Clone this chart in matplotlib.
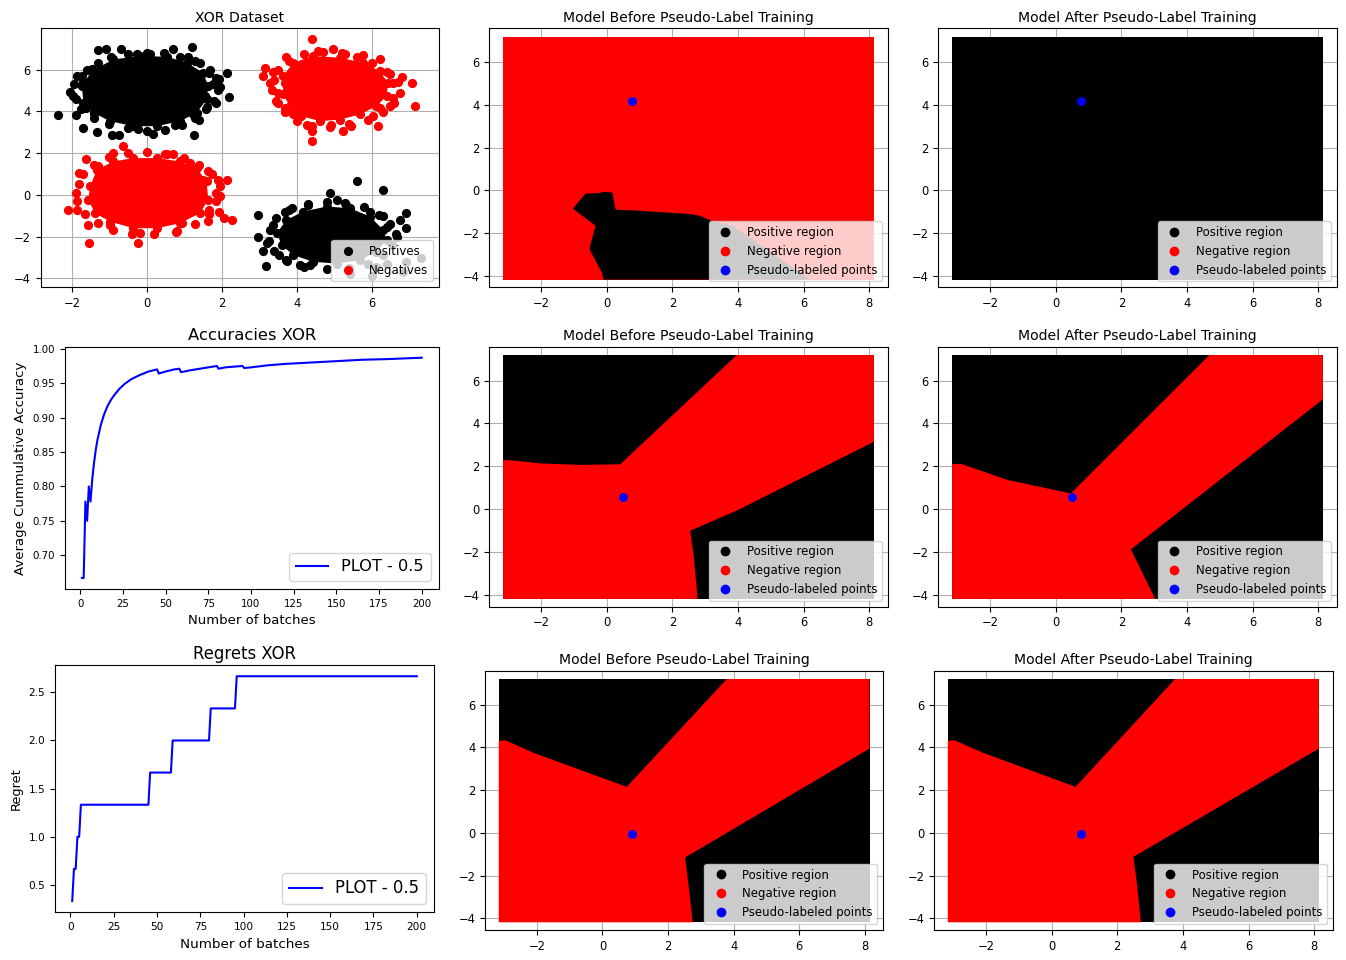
import numpy as np
import matplotlib
matplotlib.use("Agg")
import matplotlib.pyplot as plt
from matplotlib.lines import Line2D

# ---------------- XOR dataset ----------------
# Positives, top-left cluster: individual points (outliers + fringe)
pos_tl_x = [-2.36, -1.97, -1.88, -1.69, -1.33, -1.29, -1.08, -0.69, -1.71, -0.93, -0.74, 0.16, -0.22,
            1.26, 0.71, 1.20, 1.11, 1.42, 1.67, 2.13, 1.93, 1.96, 2.19, 1.84, 1.58, 1.40, 1.23, -0.27,
            0.09, -1.47, -1.73, -1.63, -1.42, 0.76, -0.44, 1.56, 1.78,
            -1.95, -1.85, -1.60, -1.30, -0.95, -0.50, 0.00, 0.45, 0.90, 1.30, 1.70, 1.85, 1.90, 1.80,
            1.60, 1.30, 0.95, 0.50, 0.00, -0.50, -1.00, -1.40, -1.75, -1.90, -2.05]
pos_tl_y = [3.81, 4.73, 3.81, 3.21, 3.01, 6.92, 6.97, 6.97, 5.40, 2.88, 2.85, 2.92, 3.17,
            2.85, 6.97, 7.08, 6.62, 6.33, 5.85, 5.82, 5.53, 5.18, 4.68, 4.38, 4.09, 3.57, 3.85, 6.73,
            6.73, 6.01, 5.69, 4.17, 3.93, 3.37, 3.32, 4.73, 5.29,
            5.30, 5.70, 6.00, 6.30, 6.60, 6.75, 6.80, 6.80, 6.60, 6.40, 6.00, 5.60, 5.00, 4.50,
            4.20, 3.70, 3.35, 3.10, 3.05, 3.20, 3.40, 3.70, 4.10, 4.60, 4.95]
# Positives, top-left cluster: outline of the dense core
pos_tl_core_x = [-1.73, -1.47, -0.89, -0.18, 0.53, 1.07, 1.51, 1.64, 1.60, 1.33, 0.89, 0.27, -0.36, -0.98, -1.42, -1.69]
pos_tl_core_y = [5.21, 5.93, 6.49, 6.65, 6.62, 6.33, 5.85, 5.21, 4.57, 3.93, 3.53, 3.29, 3.29, 3.53, 3.93, 4.41]

# Positives, bottom-right cluster
pos_br_x = [5.60, 6.31, 4.89, 2.98, 2.98, 3.11, 3.18, 3.20, 3.38, 3.69, 3.89, 4.31, 5.07, 5.33, 5.96, 6.31,
            6.76, 6.92, 6.93, 6.67, 6.40, 3.54, 3.72, 4.09, 4.36, 7.31, 6.40, 6.93, 6.13, 6.84, 5.42, 6.00,
            3.30, 3.45, 3.80, 4.30, 4.80, 5.30, 5.80, 6.20, 6.50, 6.65, 6.55, 6.30, 5.90, 5.40, 4.80,
            4.20, 3.75, 3.40, 3.25]
pos_br_y = [0.64, 0.24, 0.08, -0.96, -2.00, -2.68, -3.41, -2.29, -1.44, -0.80, -0.64, -0.48, -0.24, -0.48,
            -0.80, -1.01, -1.20, -0.88, -1.60, -2.04, -1.52, -2.88, -3.13, -3.37, -3.37, -3.05, -3.29, -3.20,
            -3.45, -3.69, -3.77, -3.87,
            -1.70, -1.10, -0.75, -0.45, -0.35, -0.40, -0.60, -0.95, -1.40, -1.90, -2.40, -2.90, -3.30,
            -3.50, -3.55, -3.45, -3.15, -2.70, -2.20]
pos_br_core_x = [3.47, 3.73, 4.18, 4.80, 5.42, 5.96, 6.31, 6.40, 6.13, 5.69, 5.07, 4.44, 3.91, 3.60]
pos_br_core_y = [-1.84, -1.20, -0.80, -0.56, -0.64, -1.04, -1.68, -2.16, -2.72, -3.13, -3.29, -3.21, -2.88, -2.40]

# Negatives, top-right cluster
neg_tr_x = [4.40, 3.72, 4.58, 4.98, 5.29, 5.78, 6.22, 3.16, 3.36, 3.11, 3.29, 3.69, 3.51, 3.51, 3.69, 3.91,
            4.27, 4.40, 4.40, 4.93, 5.23, 5.44, 6.04, 6.18, 6.22, 6.49, 6.56, 6.80, 7.09, 7.16, 6.58, 6.49,
            3.40, 3.50, 3.80, 4.20, 4.70, 5.20, 5.60, 6.00, 6.40, 6.70, 6.75, 6.60, 6.30, 5.90, 5.40,
            4.90, 4.40, 4.00, 3.70, 3.45, 3.35]
neg_tr_y = [7.45, 6.62, 6.89, 6.97, 6.73, 6.68, 6.52, 6.09, 5.88, 5.69, 5.37, 5.34, 4.89, 4.41, 4.17, 3.85,
            3.37, 3.04, 2.56, 3.37, 3.04, 3.32, 3.77, 3.32, 4.17, 4.25, 4.65, 5.66, 5.37, 4.28, 5.37, 5.77,
            5.50, 6.00, 6.40, 6.75, 6.85, 6.80, 6.60, 6.30, 5.90, 5.40, 4.90, 4.40, 3.95, 3.60, 3.40,
            3.25, 3.30, 3.55, 3.95, 4.50, 5.00]
neg_tr_core_x = [3.64, 3.91, 4.44, 5.16, 5.78, 6.22, 6.44, 6.40, 6.13, 5.69, 5.16, 4.62, 4.13, 3.82, 3.64]
neg_tr_core_y = [5.69, 6.33, 6.65, 6.57, 6.33, 5.93, 5.37, 4.73, 4.25, 3.85, 3.61, 3.53, 3.77, 4.25, 4.81]

# Negatives, bottom-left cluster
neg_bl_x = [-0.64, -0.89, -1.62, -1.82, -1.88, -2.09, -1.85, -1.53, -1.56, -0.22, -0.18, 0.71, 0.53, 1.16,
            1.64, 1.91, 2.13, 1.85, 1.96, 1.94, 2.06, 2.28, 1.64, 0.93, 0.78, -0.98, -1.29, -1.33, 1.51, 1.67,
            -1.80, -1.70, -1.40, -1.00, -0.50, 0.00, 0.50, 1.00, 1.40, 1.75, 1.95, 1.85, 1.65, 1.30,
            0.80, 0.20, -0.40, -0.90, -1.30, -1.65, -1.85]
neg_bl_y = [2.36, 2.00, 1.71, 1.04, 0.11, -0.72, -0.72, -2.32, -1.44, -2.32, -1.81, 1.97, 1.97, 1.52,
            1.12, 0.72, 0.72, 0.08, -0.05, -0.80, -1.12, -1.20, -1.25, -1.33, -1.76, -1.44, 1.36, 0.72, 0.72, -0.75,
            0.50, 1.00, 1.45, 1.80, 2.00, 2.05, 1.95, 1.75, 1.45, 1.00, 0.40, -0.30, -0.90, -1.40,
            -1.75, -1.90, -1.90, -1.70, -1.35, -0.90, -0.30]
neg_bl_core_x = [-1.51, -1.33, -0.89, -0.36, 0.27, 0.89, 1.33, 1.60, 1.64, 1.42, 0.89, 0.27, -0.36, -0.98, -1.38, -1.56]
neg_bl_core_y = [0.40, 1.20, 1.60, 1.76, 1.76, 1.60, 1.28, 0.64, -0.24, -0.88, -1.36, -1.60, -1.60, -1.28, -0.88, -0.24]

# ---------------- Decision regions ----------------
grid_x = [-3.16, 8.14, 8.14, -3.16]
grid_y = [-4.18, -4.18, 7.19, 7.19]

# Row 1, before: positive (black) region inside a negative background
r1b_pos_x = [-0.10, -0.14, -0.52, -0.50, -0.34, -1.03, -0.65, -0.24, -0.12, 0.17, 0.27, 0.80, 1.61, 2.53,
             2.83, 3.24, 3.84, 6.19]
r1b_pos_y = [-4.18, -3.88, -2.78, -2.55, -1.66, -0.86, -0.16, -0.13, -0.08, -0.10, -0.91, -0.94, -1.02, -1.11,
             -1.19, -1.46, -1.66, -4.18]
# Row 2, before: negative (red) region inside a positive background
r2b_neg_x = [-3.16, -2.81, -2.03, -0.81, 0.41, 3.96, 8.14, 8.14, 3.96, 2.54, 2.64, 2.74, 2.76, -3.16]
r2b_neg_y = [2.30, 2.27, 2.14, 2.07, 2.10, 7.19, 7.19, 3.15, -0.06, -1.00, -2.06, -3.67, -4.18, -4.18]
# Row 2, after
r2a_neg_x = [-3.16, -2.89, -1.47, 0.46, 4.68, 8.14, 8.14, 2.29, 3.03, -3.16]
r2a_neg_y = [2.11, 2.12, 1.37, 0.74, 7.19, 7.19, 5.13, -1.87, -4.18, -4.18]
# Row 3, before
r3b_neg_x = [-3.16, -2.96, -2.10, 0.74, 3.79, 8.14, 8.14, 2.52, 2.62, 2.75, -3.16]
r3b_neg_y = [4.30, 4.33, 3.74, 2.15, 7.19, 7.19, 3.94, -1.15, -2.37, -4.18, -4.18]
# Row 3, after
r3a_neg_x = [-3.16, -2.96, -2.08, 0.73, 3.76, 8.14, 8.14, 2.49, 2.60, 2.72, -3.16]
r3a_neg_y = [4.30, 4.33, 3.74, 2.15, 7.19, 7.19, 3.94, -1.12, -2.37, -4.18, -4.18]

# Pseudo-labeled points per row
pseudo_x = [0.76, 0.50, 0.91]
pseudo_y = [4.19, 0.56, -0.06]

# ---------------- Accuracy and regret curves ----------------
acc_batch = [1, 2, 3, 4, 5, 6, 7, 8, 9, 10, 12, 14, 16, 18, 20, 23, 26, 30, 35, 40, 45, 46, 50, 55, 58, 59,
             65, 70, 75, 80, 81, 85, 90, 95, 96, 100, 110, 120, 135, 150, 165, 180, 200]
acc_value = [0.667, 0.667, 0.778, 0.750, 0.800, 0.778, 0.810, 0.833, 0.852, 0.867, 0.889, 0.905, 0.917,
             0.926, 0.933, 0.942, 0.949, 0.956, 0.962, 0.967, 0.970, 0.964, 0.967, 0.970, 0.971, 0.966,
             0.969, 0.971, 0.973, 0.975, 0.971, 0.973, 0.974, 0.975, 0.972, 0.973, 0.976, 0.978, 0.980,
             0.982, 0.984, 0.985, 0.987]
reg_batch = [1, 2, 3, 4, 5, 6, 45, 46, 58, 59, 80, 81, 95, 96, 200]
reg_value = [0.333, 0.667, 0.667, 1.0, 1.0, 1.333, 1.333, 1.667, 1.667, 2.0, 2.0, 2.333, 2.333, 2.667, 2.667]

# ---------------- Figure ----------------
W, H = 1346, 960
fig = plt.figure(figsize=(W / 100, H / 100), dpi=100)


def add_ax(l, t, r, b):
    return fig.add_axes([l / W, 1 - b / H, (r - l) / W, (b - t) / H])


TITLE_FS = 10.1
TICK_FS = 8.3
LEG_FS = 8.5

# XOR dataset scatter
ax = add_ax(40.7, 28.3, 439, 287.3)
ax.grid(True)
for cx, cy, c in [(pos_tl_core_x, pos_tl_core_y, "k"), (pos_br_core_x, pos_br_core_y, "k"),
                  (neg_tr_core_x, neg_tr_core_y, "r"), (neg_bl_core_x, neg_bl_core_y, "r")]:
    ax.fill(cx, cy, color=c, lw=0, zorder=2)
ax.plot(pos_tl_x + pos_tl_core_x + pos_br_x + pos_br_core_x,
        pos_tl_y + pos_tl_core_y + pos_br_y + pos_br_core_y,
        "o", color="k", ms=5.6, label="Positives")
ax.plot(neg_tr_x + neg_tr_core_x + neg_bl_x + neg_bl_core_x,
        neg_tr_y + neg_tr_core_y + neg_bl_y + neg_bl_core_y,
        "o", color="r", ms=5.6, label="Negatives")
ax.set_xlim(-2.83, 7.80)
ax.set_ylim(-4.43, 7.98)
ax.set_title("XOR Dataset", fontsize=TITLE_FS, pad=4.8)
ax.tick_params(labelsize=TICK_FS)
ax.legend(loc="lower right", fontsize=LEG_FS, handletextpad=0.8)


def region_panel(box, base, poly, other, k, title):
    a = add_ax(*box)
    a.grid(True)
    a.fill(grid_x, grid_y, color=base, lw=0, zorder=2)
    if poly is not None:
        a.fill(poly[0], poly[1], color=other, lw=0, zorder=2.1)
    a.plot([pseudo_x[k]], [pseudo_y[k]], "o", color="b", ms=5.4, zorder=3)
    a.set_xlim(-3.58, 8.56)
    a.set_ylim(-4.54, 7.58)
    a.set_title(title, fontsize=TITLE_FS, pad=4.8)
    a.tick_params(labelsize=TICK_FS)
    handles = [Line2D([], [], ls="none", marker="o", color=c, ms=6) for c in ("k", "r", "b")]
    a.legend(handles, ["Positive region", "Negative region", "Pseudo-labeled points"],
             loc="lower right", fontsize=LEG_FS)
    return a


TB = "Model Before Pseudo-Label Training"
TA = "Model After Pseudo-Label Training"
region_panel((489.3, 28.3, 887.7, 287.3), "r", (r1b_pos_x, r1b_pos_y), "k", 0, TB)
region_panel((938.3, 28.3, 1336.7, 287.3), "k", None, "r", 0, TA)
region_panel((489.3, 346.7, 887.7, 606.7), "k", (r2b_neg_x, r2b_neg_y), "r", 1, TB)
region_panel((938.3, 346.7, 1336.7, 606.7), "k", (r2a_neg_x, r2a_neg_y), "r", 1, TA)
region_panel((485.0, 670.7, 883.3, 930.0), "k", (r3b_neg_x, r3b_neg_y), "r", 2, TB)
region_panel((934.0, 670.7, 1332.7, 930.0), "k", (r3a_neg_x, r3a_neg_y), "r", 2, TA)

# Accuracies
ax = add_ax(65, 346.7, 438.7, 589)
ax.plot(acc_batch, acc_value, color="b", lw=1.5, label="PLOT - 0.5")
ax.set_title("Accuracies XOR", fontsize=11.8, pad=4.5)
ax.set_xlabel("Number of batches", fontsize=9.5)
ax.set_ylabel("Average Cummulative Accuracy", fontsize=9.5)
ax.tick_params(labelsize=7.4)
ax.legend(loc="lower right", fontsize=11.7)

# Regrets
ax = add_ax(55, 665, 434, 912.3)
ax.plot(reg_batch, reg_value, color="b", lw=1.5, label="PLOT - 0.5")
ax.set_title("Regrets XOR", fontsize=11.9, pad=4.5)
ax.set_xlabel("Number of batches", fontsize=9.7)
ax.set_ylabel("Regret", fontsize=9.3)
ax.tick_params(labelsize=7.6)
ax.legend(loc="lower right", fontsize=11.9)

fig.savefig("out.png", dpi=100)
